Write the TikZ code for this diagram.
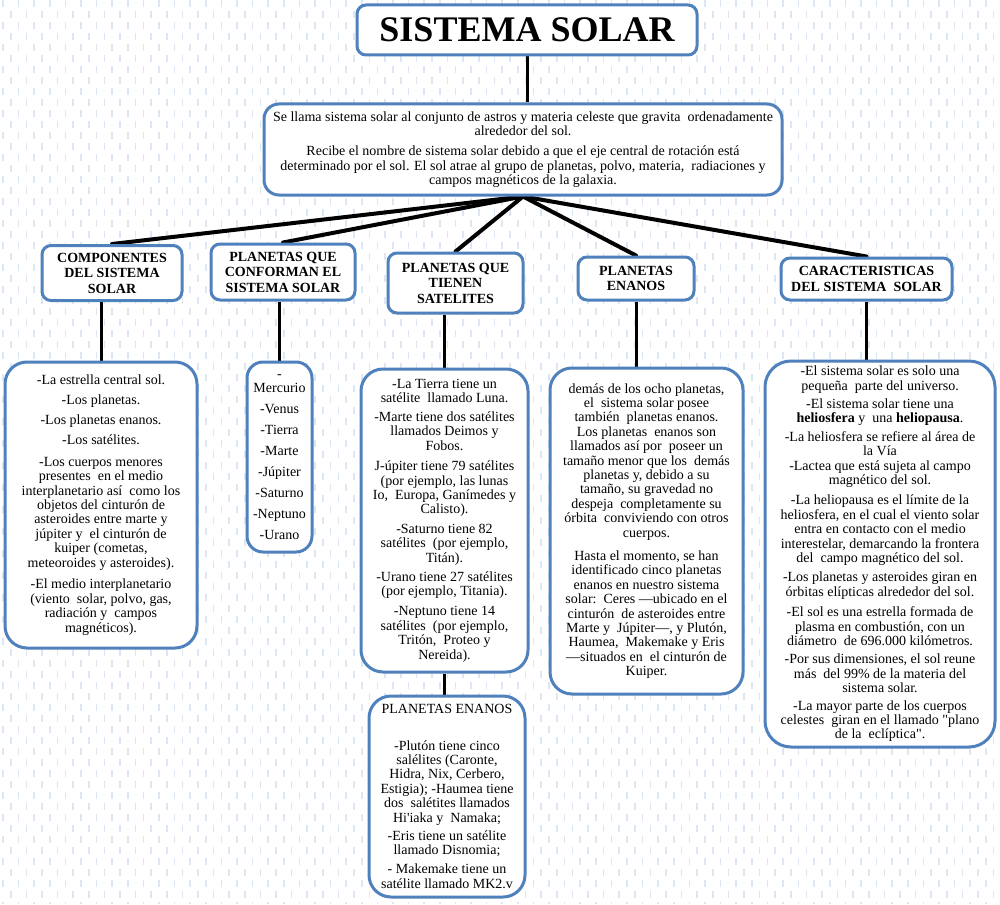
\documentclass[tikz,border=0pt]{standalone}
\usepackage{fontspec}
\setmainfont{Liberation Serif}[Ligatures=TeXOff]
\definecolor{boxblue}{RGB}{79,129,189}
\definecolor{dotblue}{RGB}{221,230,243}
\pgfdeclarelayer{bgpat}
\pgfdeclarelayer{lines}
\pgfsetlayers{bgpat,lines,main}
\tikzset{
  bx/.style={draw=boxblue, line width=3pt, fill=white, align=center, inner sep=0pt,
    font=\fontsize{14}{14.4}\selectfont},
  hdr/.style={bx, rounded corners=9pt, font=\bfseries\fontsize{14}{15.5}\selectfont},
  cbox/.style={bx, rounded corners=22pt},
  conn/.style={line width=3pt, black},
  fan/.style={line width=4pt, black},
}
\begin{document}
\begin{tikzpicture}[x=1pt,y=-1pt]
\useasboundingbox (0,0) rectangle (1000,904);
\begin{pgfonlayer}{bgpat}
  \fill[white] (0,0) rectangle (1000,904);
  \foreach \i [evaluate=\i as \ph using {mod(\i,2)*11}] in {0,...,128}{
    \draw[dotblue, line width=1.5pt, dash pattern=on 7pt off 15pt, dash phase=\ph pt]
      (\i*7.8+3,0) -- (\i*7.8+3,904);
  }
\end{pgfonlayer}

% title and description
\node[bx, rounded corners=9pt, minimum width=340, minimum height=50,
  font=\bfseries\fontsize{36}{40}\selectfont] (title) at (527,30) {SISTEMA SOLAR};
\node[bx, rounded corners=15pt, minimum width=518, minimum height=91,
  font=\fontsize{14}{14.4}\selectfont] (top) at (523,149.5) {%
Se llama sistema solar al conjunto de astros y materia celeste que gravita\ \ ordenadamente\\
alrededor del sol.\\[5.6pt]
Recibe el nombre de sistema solar debido a que el eje central de rotación está\\
determinado por el sol. El sol atrae al grupo de planetas, polvo, materia,\ \ radiaciones y\\
campos magnéticos de la galaxia.};

% headers
\node[hdr, minimum width=140, minimum height=55] (h1) at (112,273) {COMPONENTES\\DEL SISTEMA\\SOLAR};
\node[hdr, minimum width=144, minimum height=56] (h2) at (283,272) {PLANETAS QUE\\CONFORMAN EL\\SISTEMA SOLAR};
\node[hdr, minimum width=135, minimum height=60] (h3) at (455.5,283) {PLANETAS QUE\\TIENEN\\SATELITES};
\node[hdr, minimum width=116, minimum height=43] (h4) at (636,278.5) {PLANETAS\\ENANOS};
\node[hdr, minimum width=171, minimum height=42] (h5) at (866.5,279) {CARACTERISTICAS\\DEL SISTEMA\ \ SOLAR};

% content boxes
\node[cbox, minimum width=192, minimum height=286] (c1) at (101,505) {%
-La estrella central sol.\\[5.6pt]
-Los planetas.\\[5.6pt]
-Los planetas enanos.\\[5.6pt]
-Los satélites.\\[7.3pt]
-Los cuerpos menores\\
presentes\ \ en el medio\\
interplanetario así\ \ como los\\
objetos del cinturón de\\
asteroides entre marte y\\
júpiter y\ \ el cinturón de\\
kuiper (cometas,\\
meteoroides y asteroides).\\[7.3pt]
-El medio interplanetario\\
(viento\ \ solar, polvo, gas,\\
radiación y\ \ campos\\
magnéticos).};

\node[cbox, rounded corners=16pt, minimum width=65, minimum height=190] (c2) at (279.5,457) {%
-\\
Mercurio\\[6.5pt]
-Venus\\[6.5pt]
-Tierra\\[6.5pt]
-Marte\\[6.5pt]
-Júpiter\\[6.5pt]
-Saturno\\[6.5pt]
-Neptuno\\[6.5pt]
-Urano};

\node[cbox, minimum width=167, minimum height=303] (c3) at (444.5,520.5) {%
-La Tierra tiene un\\
satélite\ \ llamado Luna.\\[4.6pt]
-Marte tiene dos satélites\\
llamados Deimos y\\
Fobos.\\[6pt]
J-úpiter tiene 79 satélites\\
(por ejemplo, las lunas\\
Io,\ \ Europa, Ganímedes y\\
Calisto).\\[5pt]
-Saturno tiene 82\\
satélites\ \ (por ejemplo,\\
Titán).\\[4.6pt]
-Urano tiene 27 satélites\\
(por ejemplo, Titania).\\[6pt]
-Neptuno tiene 14\\
satélites\ \ (por ejemplo,\\
Tritón,\ \ Proteo y\\
Nereida).};

\node[cbox, minimum width=193, minimum height=326] (c4) at (646.5,531) {%
demás de los ocho planetas,\\
el\ \ sistema solar posee\\
también\ \ planetas enanos.\\
Los planetas\ \ enanos son\\
llamados así por\ \ poseer un\\
tamaño menor que los\ \ demás\\
planetas y, debido a su\\
tamaño, su gravedad no\\
despeja\ \ completamente su\\
órbita\ \ conviviendo con otros\\
cuerpos.\\[9pt]
Hasta el momento, se han\\
identificado cinco planetas\\
enanos en nuestro sistema\\
solar:\ \ Ceres —ubicado en el\\
cinturón\ \ de asteroides entre\\
Marte y\ \ Júpiter—, y Plutón,\\
Haumea,\ \ Makemake y Eris\\
—situados en\ \ el cinturón de\\
Kuiper.};

\node[cbox, rounded corners=26pt, minimum width=230, minimum height=386] (c5) at (880,554) {%
-El sistema solar es solo una\\
pequeña\ \ parte del universo.\\[4pt]
-El sistema solar tiene una\\
\textbf{heliosfera} y\ \ una \textbf{heliopausa}.\\[4pt]
-La heliosfera se refiere al área de\\
la Vía\\
-Lactea que está sujeta al campo\\
magnético del sol.\\[6pt]
-La heliopausa es el límite de la\\
heliosfera, en el cual el viento solar\\
entra en contacto con el medio\\
interestelar, demarcando la frontera\\
del\ \ campo magnético del sol.\\[5pt]
-Los planetas y asteroides giran en\\
órbitas elípticas alrededor del sol.\\[6pt]
-El sol es una estrella formada de\\
plasma en combustión, con un\\
diámetro\ \ de 696.000 kilómetros.\\[4pt]
-Por sus dimensiones, el sol reune\\
más\ \ del 99\% de la materia del\\
sistema solar.\\[3pt]
-La mayor parte de los cuerpos\\
celestes\ \ giran en el llamado "plano\\
de la\ \ eclíptica".};

\node[cbox, minimum width=156, minimum height=201] (c6) at (447,796.5) {%
PLANETAS ENANOS\\[22pt]
-Plutón tiene cinco\\
salélites (Caronte,\\
Hidra, Nix, Cerbero,\\
Estigia); -Haumea tiene\\
dos\ \ salétites llamados\\
Hi'iaka y\ \ Namaka;\\[3.6pt]
-Eris tiene un satélite\\
llamado Disnomia;\\[5pt]
- Makemake tiene un\\
satélite llamado MK2.v};

% connectors
\begin{pgfonlayer}{lines}
  \draw[conn] (title.south) -- (title.south |- top.north);
  \foreach \h in {h1,h2,h3,h4,h5}{
    \draw[fan, line cap=round] (top.south) -- (\h.north);
  }
  \draw[conn] (h1.south -| c1.north) -- (c1.north);
  \draw[conn] (h2.south -| c2.north) -- (c2.north);
  \draw[conn] (h3.south -| c3.north) -- (c3.north);
  \draw[conn] (h4.south) -- (h4.south |- c4.north);
  \draw[conn] (h5.south) -- (h5.south |- c5.north);
  \draw[conn] (c3.south) -- (c3.south |- c6.north);
\end{pgfonlayer}
\end{tikzpicture}
\end{document}
